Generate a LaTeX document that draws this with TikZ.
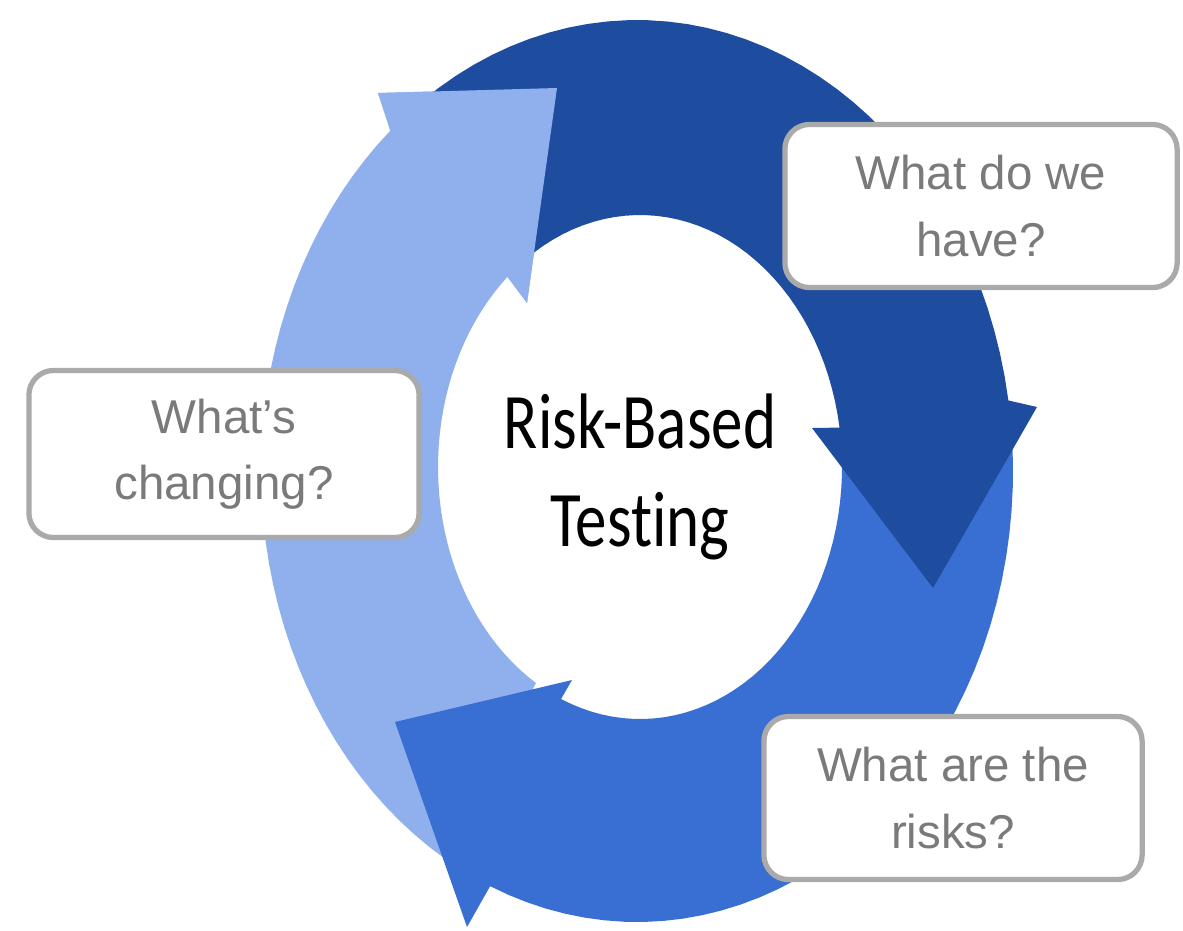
\documentclass[tikz,border=0pt]{standalone}
\usepackage{fontspec}
\setmainfont{Liberation Sans}
\newfontfamily\hubfont[Ligatures=NoCommon]{Carlito}
\usepackage{graphicx}
\usepackage{tikz}
\definecolor{darkblue}{RGB}{30,76,158}
\definecolor{midblue}{RGB}{57,110,210}
\definecolor{lightblue}{RGB}{143,176,236}
\definecolor{boxgray}{RGB}{170,170,170}
\definecolor{textgray}{RGB}{122,122,122}

\begin{document}
\begin{tikzpicture}[
    x=0.01cm, y=-0.01cm,
    question/.style={rectangle, draw=boxgray, line width=1.5pt, fill=white, rounded corners=7pt, align=center, text=textgray, font=\fontsize{13.5}{18.8}\selectfont, minimum height=1.63cm},
    hub/.style={align=center, font=\hubfont\fontsize{17.9}{22.4}\selectfont},
    darkarc/.style={fill=darkblue},
    midarc/.style={fill=midblue},
    lightarc/.style={fill=lightblue}
]
    \useasboundingbox (0,0) rectangle (1183,930);

    % left arrow, going up
    \fill[lightarc] plot[domain=121:229, samples=40] ({637+376*cos(\x)}, {471+451*sin(\x)})
        -- (378,93) -- (557,88) -- (527,303)
        -- plot[domain=229:121, samples=40] ({640+202*cos(\x)}, {467+252*sin(\x)}) -- cycle;
    % bottom arrow, going left
    \fill[midarc] plot[domain=356:473, samples=40] ({637+376*cos(\x)}, {471+451*sin(\x)})
        -- (467,927) -- (395,722) -- (572,680)
        -- plot[domain=473:356, samples=40] ({640+202*cos(\x)}, {467+252*sin(\x)}) -- cycle;
    % top arrow, going down
    \fill[darkarc] plot[domain=232:351, samples=40] ({637+376*cos(\x)}, {471+451*sin(\x)})
        -- (1037,407) -- (933,588) -- (812,428)
        -- plot[domain=351:232, samples=40] ({640+202*cos(\x)}, {467+252*sin(\x)}) -- cycle;
    % head of the left arrow sits over the tail of the top one
    \fill[lightarc] ({637+376*cos(229)}, {471+451*sin(229)})
        -- (378,93) -- (557,88) -- (527,303)
        -- ({640+202*cos(229)}, {467+252*sin(229)}) -- cycle;

    \node[hub] (rbt) at (640,478) {\scalebox{1}[1.25]{\begin{tabular}{@{}c@{}}Risk-Based\\Testing\end{tabular}}};

    \node[question, minimum width=3.92cm] (have) at (981,206) {What do we\\have?};
    \node[question, minimum width=3.90cm, minimum height=1.67cm] (changing) at (224,454) {What's\\changing?};
    \node[question, minimum width=3.78cm] (risks) at (953,798) {What are the\\risks?};
\end{tikzpicture}
\end{document}
